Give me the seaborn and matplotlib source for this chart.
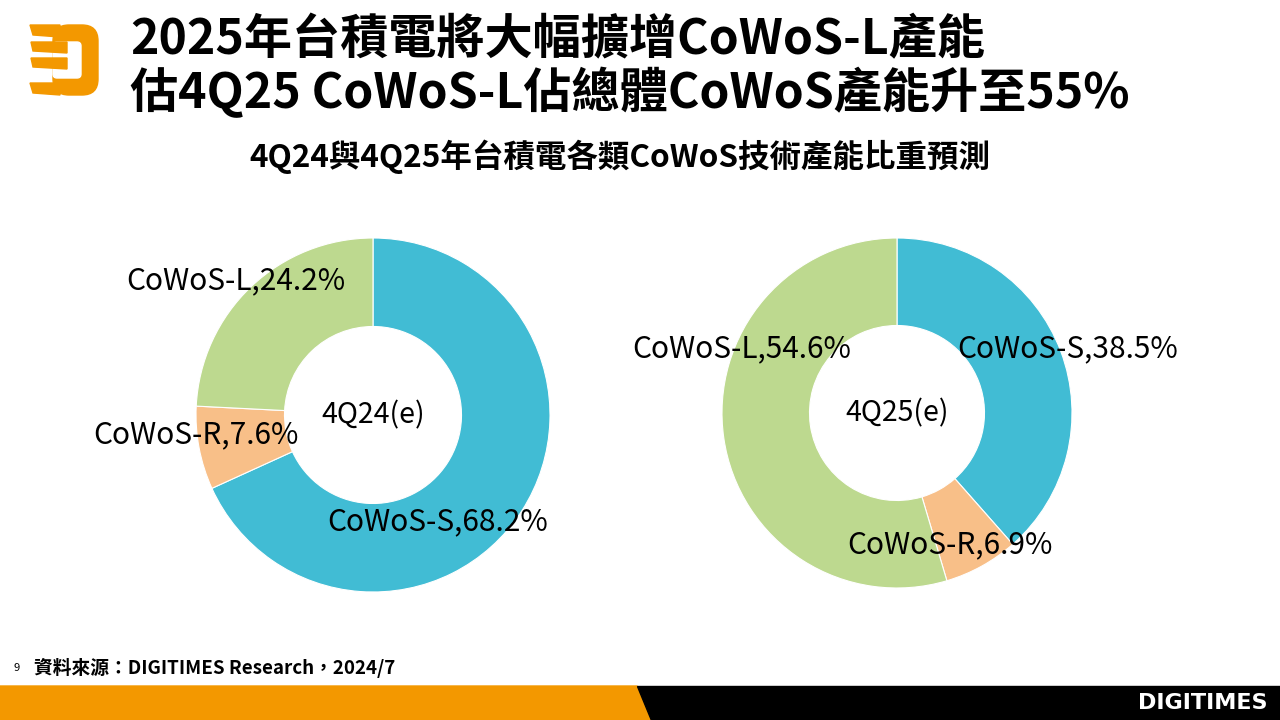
import matplotlib
matplotlib.use("Agg")
import matplotlib.pyplot as plt
import seaborn as sns
from matplotlib.patches import Polygon, FancyBboxPatch, Rectangle

sns.set_theme(style="white")
plt.rcParams['font.family'] = ['Noto Sans CJK TC', 'DejaVu Sans']
plt.rcParams['text.color'] = 'black'

categories = ["CoWoS-S", "CoWoS-R", "CoWoS-L"]
q24_values = [68.2, 7.6, 24.2]
q25_values = [38.5, 6.9, 54.6]
colors = ["#41BCD4", "#F8BF88", "#BDD98F"]

W, H = 1280, 720
fig = plt.figure(figsize=(12.8, 7.2), dpi=100)

def fx(x): return x / W
def fy(y): return 1 - y / H

# Title
fig.text(fx(130), fy(40), "2025年台積電將大幅擴增CoWoS-L產能", fontsize=34.7, fontweight='bold', va='center', ha='left')
fig.text(fx(130), fy(92), "估4Q25 CoWoS-L佔總體CoWoS產能升至55%", fontsize=34.7, fontweight='bold', va='center', ha='left')
fig.text(fx(620), fy(157), "4Q24與4Q25年台積電各類CoWoS技術產能比重預測", fontsize=22.7, fontweight='bold', va='center', ha='center')

# Logo
orange = "#F39800"
lax = fig.add_axes([fx(25), fy(100), fx(80), 80 / H])
lax.set_xlim(0, 80); lax.set_ylim(80, 0); lax.axis('off')
lax.add_patch(FancyBboxPatch((28, 5), 45, 70, boxstyle="round,pad=0,rounding_size=16", color=orange))
lax.add_patch(FancyBboxPatch((28, 22), 28, 36, boxstyle="round,pad=0,rounding_size=4", color="white"))
lax.add_patch(Polygon([(5, 5), (35, 5), (35, 17), (8, 15)], color=orange))
lax.add_patch(Polygon([(6, 22), (42, 22), (42, 33), (8, 31)], color=orange))
lax.add_patch(Polygon([(6, 38), (42, 38), (42, 49), (8, 47)], color=orange))
lax.add_patch(Polygon([(5, 63), (35, 63), (35, 75), (8, 73)], color=orange))

def donut(cx, cy, r, values, center, labels):
    ax = fig.add_axes([fx(cx - r), fy(cy + r), 2 * r / W, 2 * r / H])
    ax.pie(values, colors=colors, startangle=90, counterclock=False,
           wedgeprops=dict(width=0.5, edgecolor='white', linewidth=0.8))
    ax.set_xlim(-1, 1); ax.set_ylim(-1, 1)
    ax.set_aspect('auto')
    fig.text(fx(cx), fy(cy), center, fontsize=20.5, ha='center', va='center')
    for cat, v, (lx, ly, ha) in zip(categories, values, labels):
        fig.text(fx(lx), fy(ly), f"{cat},{v}%", fontsize=21.5, ha=ha, va='center')

donut(373, 415, 177, q24_values, "4Q24(e)",
      [(327, 522, 'left'), (93, 435, 'left'), (126, 281, 'left')])
donut(897, 413, 175, q25_values, "4Q25(e)",
      [(957, 349, 'left'), (847, 545, 'left'), (632, 349, 'left')])

# Footer
fig.text(fx(14), fy(668), "9", fontsize=8, va='center')
fig.text(fx(34), fy(668), "資料來源：DIGITIMES Research，2024/7", fontsize=13.5, fontweight='bold', va='center')
fig.patches.append(Polygon([(0, 0), (fx(651), 0), (fx(637), fy(686)), (0, fy(686))],
                           closed=True, color=orange, transform=fig.transFigure))
fig.patches.append(Polygon([(fx(651), 0), (1, 0), (1, fy(686)), (fx(637), fy(686))],
                           closed=True, color="black", transform=fig.transFigure))
fig.text(fx(1268), fy(703), "DIGITIMES", fontsize=16, fontweight='bold', color='white',
         ha='right', va='center', family='DejaVu Sans')

fig.savefig("out.png", dpi=100)
